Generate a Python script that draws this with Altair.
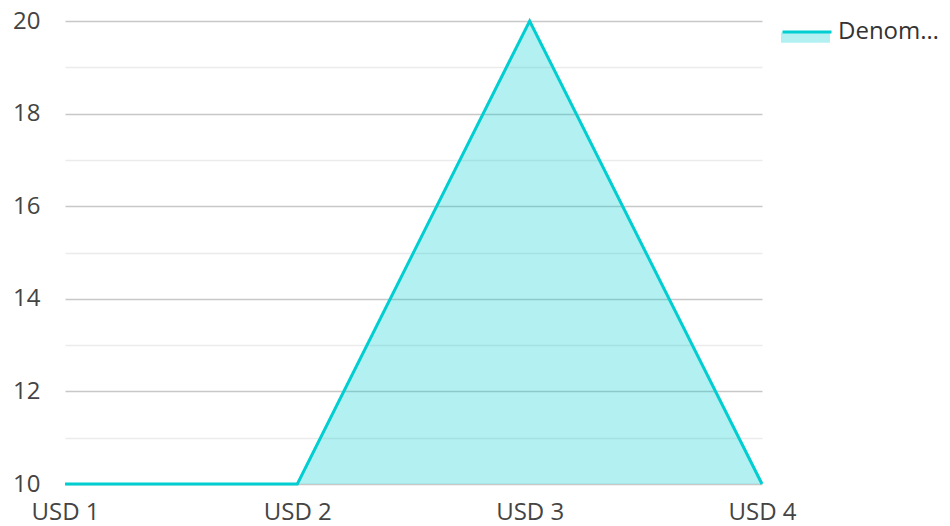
import altair as alt
import pandas as pd

categories = ["USD 1", "USD 2", "USD 3", "USD 4"]
values = [10, 10, 20, 10]
series = "Denomination"

df = pd.DataFrame({"cat": categories, "val": values, "series": [series] * 4})

LINE = "#00CED1"
FONT = "Open Sans"
FS = 24

x = alt.X("cat:N", sort=categories, title=None,
          scale=alt.Scale(type="point", padding=0),
          axis=alt.Axis(labelAngle=0, ticks=False, domain=False, grid=False,
                        labelFontSize=FS, labelColor="#444", labelFont=FONT,
                        labelPadding=16))
y = alt.Y("val:Q", title=None,
          scale=alt.Scale(domain=[10, 20], zero=False, nice=False),
          axis=alt.Axis(values=list(range(10, 21)), ticks=False, domain=False,
                        labelExpr="datum.value % 2 == 0 ? datum.label : ''",
                        gridColor={"condition": {"test": "datum.value % 2 == 0", "value": "#c8c8c8"}, "value": "#ebebeb"},
                        gridWidth=1.5,
                        labelFontSize=FS, labelColor="#444", labelFont=FONT,
                        labelPadding=25))

area = alt.Chart(df).mark_area(opacity=0.3, clip=True).encode(
    x=x, y=y,
    fill=alt.Fill("series:N", scale=alt.Scale(range=[LINE]),
                  legend=alt.Legend(title=None, orient="none", legendX=716, legendY=-15,
                                    symbolType="M-1,0.08L1,0.08L1,0.5L-1,0.5Z",
                                    symbolSize=2401, symbolOpacity=0.3, symbolStrokeWidth=0,
                                    labelExpr="''", labelFontSize=FS, labelFont=FONT,
                                    padding=0))
)
line = alt.Chart(df).mark_line(strokeWidth=3).encode(
    x=x, y=y,
    stroke=alt.Stroke("series:N", scale=alt.Scale(range=[LINE]),
                      legend=alt.Legend(title=None, orient="none", legendX=716, legendY=-15,
                                        symbolType="M-1,0L1,0", symbolSize=2401,
                                        symbolStrokeWidth=3,
                                        labelColor="#333", labelFontSize=FS, labelFont=FONT,
                                        padding=0, labelLimit=102, labelOffset=5))
)

chart = alt.layer(area, line).resolve_scale(fill="independent", stroke="independent").properties(
    width=697, height=463,
    autosize=alt.AutoSizeParams(type="none"),
    padding={"left": 57, "top": 13, "right": 180, "bottom": 42},
).configure_view(stroke=None)

chart.save("out.html", embed_options={"renderer": "svg", "actions": False})
